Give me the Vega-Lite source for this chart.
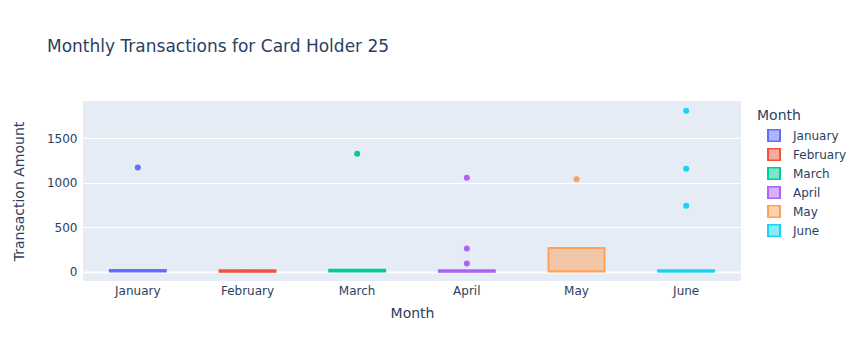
{
  "$schema": "https://vega.github.io/schema/vega-lite/v6.json",
  "width": 658,
  "height": 180,
  "autosize": {"type": "none"},
  "padding": {"left": 83, "top": 101, "right": 127, "bottom": 82},
  "background": "white",
  "title": {
    "text": "Monthly Transactions for Card Holder 25",
    "anchor": "start",
    "frame": "group",
    "dx": -36,
    "offset": 45,
    "font": "DejaVu Sans",
    "fontSize": 17,
    "fontWeight": "normal",
    "color": "#2a3f5f"
  },
  "config": {
    "view": {"fill": "#E5ECF6", "stroke": null},
    "font": "DejaVu Sans",
    "axis": {
      "labelFont": "DejaVu Sans",
      "titleFont": "DejaVu Sans",
      "labelColor": "#2a3f5f",
      "titleColor": "#2a3f5f",
      "labelFontSize": 12,
      "titleFontSize": 14,
      "titleFontWeight": "normal",
      "domain": false,
      "ticks": false
    },
    "legend": {
      "labelFont": "DejaVu Sans",
      "titleFont": "DejaVu Sans",
      "labelColor": "#2a3f5f",
      "titleColor": "#2a3f5f",
      "labelFontSize": 12,
      "titleFontSize": 14,
      "titleFontWeight": "normal"
    }
  },
  "datasets": {
    "boxes": [
      {"Month": "January", "lower": 0, "q1": 2, "median": 8, "q3": 20, "upper": 25},
      {"Month": "February", "lower": 0, "q1": 1, "median": 6, "q3": 18, "upper": 25},
      {"Month": "March", "lower": 0, "q1": 2, "median": 10, "q3": 22, "upper": 30},
      {"Month": "April", "lower": 0, "q1": 1, "median": 5, "q3": 17, "upper": 22},
      {"Month": "May", "lower": 1, "q1": 3, "median": 8, "q3": 265, "upper": 265},
      {"Month": "June", "lower": 0, "q1": 2, "median": 4, "q3": 18, "upper": 22}
    ],
    "outliers": [
      {"Month": "January", "amount": 1170},
      {"Month": "March", "amount": 1325},
      {"Month": "April", "amount": 1056},
      {"Month": "April", "amount": 262},
      {"Month": "April", "amount": 92},
      {"Month": "May", "amount": 1038},
      {"Month": "June", "amount": 1806},
      {"Month": "June", "amount": 1155},
      {"Month": "June", "amount": 740}
    ]
  },
  "encoding": {
    "x": {
      "field": "Month",
      "type": "nominal",
      "sort": ["January", "February", "March", "April", "May", "June"],
      "scale": {"paddingInner": 0, "paddingOuter": 0},
      "axis": {"labelAngle": 0, "labelPadding": 4, "titlePadding": 10, "title": "Month"}
    },
    "color": {"field": "Month", "type": "nominal",
      "scale": {"domain": ["January", "February", "March", "April", "May", "June"],
                "range": ["#636efa", "#EF553B", "#00cc96", "#ab63fa", "#FFA15A", "#19d3f3"]},
      "legend": {
        "title": "Month",
        "orient": "none",
        "legendX": 674,
        "legendY": 8,
        "symbolType": "square",
        "symbolSize": 144,
        "labelOffset": 12,
        "rowPadding": 6,
        "clipHeight": 13,
        "titlePadding": 6,
        "padding": 0,
        "symbolOffset": 10,
        "encode": {
          "symbols": {
            "update": {
              "stroke": {"scale": "color", "field": "value"},
              "fill": {"scale": "color", "field": "value"},
              "fillOpacity": {"value": 0.5},
              "strokeWidth": {"value": 2},
              "opacity": {"value": 1}
            }
          }
        }
      }
    }
  },
  "layer": [
    {
      "data": {"name": "boxes"},
      "mark": {"type": "rule", "strokeWidth": 2},
      "encoding": {
        "y": {"field": "lower", "type": "quantitative"},
        "y2": {"field": "q1"}
      }
    },
    {
      "data": {"name": "boxes"},
      "mark": {"type": "rule", "strokeWidth": 2},
      "encoding": {
        "y": {"field": "q3", "type": "quantitative"},
        "y2": {"field": "upper"}
      }
    },
    {
      "data": {"name": "boxes"},
      "mark": {"type": "bar", "width": {"band": 0.51}, "fillOpacity": 0.5, "strokeWidth": 2},
      "encoding": {
        "y": {
          "field": "q1",
          "type": "quantitative",
          "scale": {"domain": [-104, 1916], "nice": false, "zero": false},
          "axis": {
            "title": "Transaction Amount",
            "values": [0, 500, 1000, 1500],
            "format": "d",
            "gridColor": "white",
            "gridWidth": {"condition": {"test": "datum.value === 0", "value": 2}, "value": 1},
            "labelPadding": 6,
            "titlePadding": 20
          }
        },
        "y2": {"field": "q3"},
        "stroke": {"field": "Month", "type": "nominal",
          "scale": {"domain": ["January", "February", "March", "April", "May", "June"],
                    "range": ["#636efa", "#EF553B", "#00cc96", "#ab63fa", "#FFA15A", "#19d3f3"]},
          "legend": null}
      }
    },
    {
      "data": {"name": "boxes"},
      "mark": {"type": "tick", "thickness": 2, "size": 56},
      "encoding": {
        "y": {"field": "median", "type": "quantitative"}
      }
    },
    {
      "data": {"name": "outliers"},
      "mark": {"type": "circle", "size": 36, "opacity": 1},
      "encoding": {
        "y": {"field": "amount", "type": "quantitative"}
      }
    }
  ]
}
